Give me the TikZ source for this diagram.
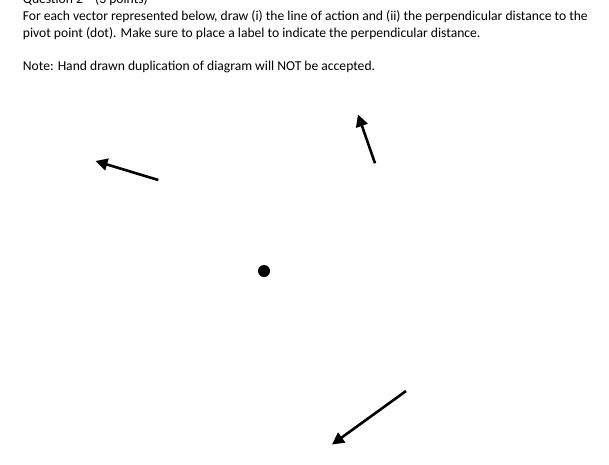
\documentclass[tikz,border=0pt]{standalone}
\usepackage{fontspec}
\setmainfont{Carlito}
\usetikzlibrary{arrows.meta}
\tikzset{
  txt/.style={anchor=base west, inner sep=0pt, font=\fontsize{13.6}{17.3}\selectfont},
  vec/.style={line width=2.6pt, -{Triangle[length=12pt,width=12pt]}},
}
\begin{document}
\begin{tikzpicture}[x=1pt,y=-1pt]
\useasboundingbox (0,0) rectangle (609,464);
\clip (0,0) rectangle (609,464);
\node[txt] (q) at (22.7,3.5) {Question 2\hspace{0.9em}(3 points)};
\node[txt] (l1) at (22.7,20) {For each vector represented below, draw (i) the line of action and (ii) the perpendicular distance to the};
\node[txt] (l2) at (22.7,37.3) {pivot point (dot). Make sure to place a label to indicate the perpendicular distance.};
\node[txt] (n) at (22.7,70) {Note: Hand drawn duplication of diagram will NOT be accepted.};
\coordinate (a1) at (158.3,180);
\coordinate (b1) at (95.5,161);
\coordinate (a2) at (375,163.3);
\coordinate (b2) at (358,114.5);
\coordinate (a3) at (406,391);
\coordinate (b3) at (332,444.5);
\draw[vec] (a1) -- (b1);
\draw[vec] (a2) -- (b2);
\draw[vec] (a3) -- (b3);
\fill (264,271) circle (6);
\end{tikzpicture}
\end{document}
